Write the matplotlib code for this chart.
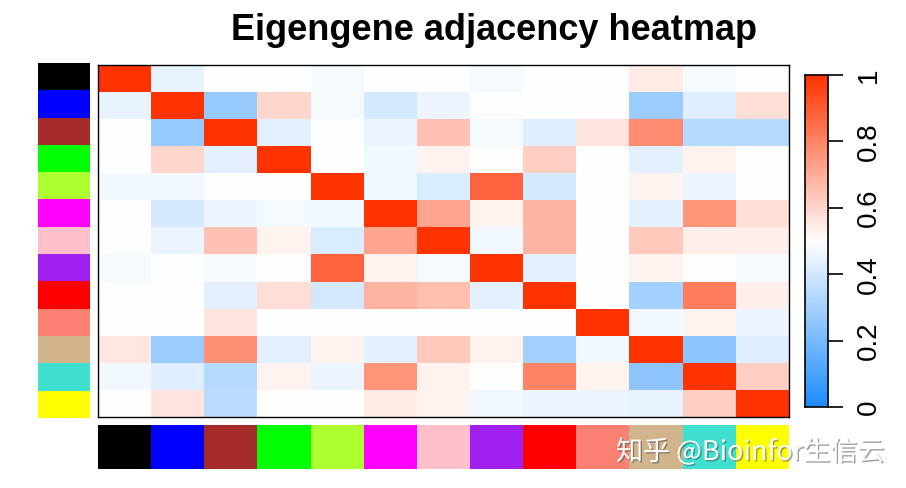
import numpy as np
import matplotlib
matplotlib.use("Agg")
import matplotlib.pyplot as plt
import matplotlib.patheffects as pe
from matplotlib.colors import LinearSegmentedColormap, ListedColormap

modules = ["black", "blue", "brown", "green", "greenyellow", "magenta", "pink",
           "purple", "red", "salmon", "tan", "turquoise", "yellow"]
module_hex = ["#000000", "#0000FF", "#A52A2A", "#00FF00", "#ADFF2F", "#FF00FF", "#FFC0CB",
              "#A020F0", "#FF0000", "#FA8072", "#D2B48C", "#40E0D0", "#FFFF00"]

# eigengene adjacency (top to bottom)
adjacency = [
    [1.00, 0.45, 0.50, 0.50, 0.48, 0.50, 0.50, 0.48, 0.50, 0.50, 0.55, 0.48, 0.50],
    [0.45, 1.00, 0.27, 0.60, 0.48, 0.41, 0.46, 0.50, 0.50, 0.50, 0.28, 0.43, 0.58],
    [0.50, 0.27, 1.00, 0.44, 0.50, 0.46, 0.65, 0.48, 0.43, 0.57, 0.78, 0.34, 0.34],
    [0.50, 0.60, 0.44, 1.00, 0.50, 0.47, 0.53, 0.50, 0.62, 0.50, 0.44, 0.53, 0.50],
    [0.47, 0.47, 0.50, 0.50, 1.00, 0.47, 0.42, 0.88, 0.41, 0.50, 0.53, 0.46, 0.50],
    [0.50, 0.41, 0.46, 0.48, 0.47, 1.00, 0.72, 0.53, 0.68, 0.50, 0.44, 0.76, 0.58],
    [0.50, 0.46, 0.65, 0.53, 0.42, 0.72, 1.00, 0.47, 0.68, 0.50, 0.63, 0.54, 0.54],
    [0.48, 0.50, 0.48, 0.50, 0.88, 0.53, 0.48, 1.00, 0.44, 0.50, 0.53, 0.50, 0.48],
    [0.50, 0.50, 0.44, 0.58, 0.40, 0.68, 0.66, 0.44, 1.00, 0.50, 0.30, 0.82, 0.54],
    [0.50, 0.50, 0.57, 0.50, 0.50, 0.50, 0.50, 0.50, 0.50, 1.00, 0.47, 0.53, 0.46],
    [0.56, 0.28, 0.77, 0.44, 0.53, 0.44, 0.63, 0.53, 0.30, 0.47, 1.00, 0.25, 0.43],
    [0.47, 0.43, 0.34, 0.53, 0.46, 0.76, 0.53, 0.50, 0.80, 0.53, 0.25, 1.00, 0.62],
    [0.50, 0.57, 0.35, 0.50, 0.50, 0.55, 0.53, 0.47, 0.46, 0.46, 0.45, 0.62, 1.00],
]
cbar_ticks = [0, 0.2, 0.4, 0.6, 0.8, 1]
cbar_labels = ["0", "0.2", "0.4", "0.6", "0.8", "1"]

M = np.array(adjacency)
n = len(modules)

cmap = LinearSegmentedColormap.from_list(
    "bwr_wgcna", [(0.0, "#1E8CFF"), (0.5, "#FFFFFF"), (1.0, "#FF3300")])

plt.rcParams["font.family"] = ["Liberation Sans", "DejaVu Sans"]

fig = plt.figure(figsize=(9.06, 4.88), dpi=100)
W, H = 906, 488

def px_axes(x0, y0, x1, y1):
    return fig.add_axes([x0 / W, 1 - y1 / H, (x1 - x0) / W, (y1 - y0) / H])

# main heatmap
ax = px_axes(98, 65, 789, 417)
ax.imshow(M, cmap=cmap, vmin=0, vmax=1, aspect="auto", interpolation="nearest")
ax.set_xticks([])
ax.set_yticks([])
for s in ax.spines.values():
    s.set_linewidth(1.0)

mod_cmap = ListedColormap(module_hex)
idx = np.arange(n)

# left module colour bar
axl = px_axes(38, 63, 90, 418)
axl.imshow(idx.reshape(-1, 1), cmap=mod_cmap, aspect="auto", interpolation="nearest")
axl.axis("off")

# bottom module colour bar
axb = px_axes(98, 425, 789, 469)
axb.imshow(idx.reshape(1, -1), cmap=mod_cmap, aspect="auto", interpolation="nearest")
axb.axis("off")

# colour key
axc = px_axes(805, 75, 828, 407)
grad = np.linspace(0, 1, 256).reshape(-1, 1)
axc.imshow(grad, cmap=cmap, vmin=0, vmax=1, aspect="auto", origin="lower",
           extent=[0, 1, 0, 1])
axc.set_xticks([])
axc.yaxis.tick_right()
axc.set_yticks(cbar_ticks)
axc.set_yticklabels(cbar_labels, rotation=90, va="center", fontsize=20)
axc.tick_params(axis="y", length=11, width=1.2, pad=9)
for s in axc.spines.values():
    s.set_linewidth(1.2)

fig.text(494 / W, 1 - 31 / H, "Eigengene adjacency heatmap", ha="center", va="center",
         fontsize=26, fontweight="bold")

# watermark
fig.text(616 / W, 1 - 452 / H, "知乎 @Bioinfor生信云", ha="left", va="center",
         fontsize=19.5, color="white",
         family=["Noto Sans CJK SC", "DejaVu Sans"],
         path_effects=[pe.withSimplePatchShadow(offset=(1, -1), shadow_rgbFace="#444444",
                                                alpha=0.5)])

fig.savefig("out.png", dpi=100)
